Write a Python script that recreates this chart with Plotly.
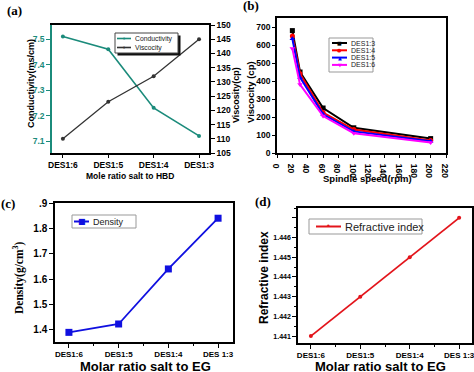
import plotly.graph_objects as go

W, H = 474, 372

# ---------------- data ----------------
# (a)
cats_a = ["DES1:6", "DES1:5", "DES1:4", "DES1:3"]
conductivity = [7.51, 7.46, 7.23, 7.12]
viscosity_a = [110, 123, 132, 145]
# (b)
speed = [20, 30, 60, 100, 200]
des13 = [680, 450, 250, 140, 80]
des14 = [650, 440, 225, 130, 70]
des15 = [635, 420, 215, 120, 65]
des16 = [580, 380, 205, 110, 58]
# (c)
cats_c = ["DES1:6", "DES1:5", "DES1:4", "DES 1:3"]
density = [1.39, 1.423, 1.64, 1.84]
# (d)
cats_d = ["DES1:6", "DES1:5", "DES1:4", "DES 1:3"]
refractive = [1.441, 1.443, 1.445, 1.447]

TEAL = "#1b8b7b"
DARK = "#333333"
BLUE = "#1010e0"
RED = "#e3141b"
MAG = "#ff00ff"
FONT = "Arial"


def xd(a, b):
    return [a / W, b / W]


def yd(top, bottom):
    return [1 - bottom / H, 1 - top / H]


def px(x):
    return x / W


def py(y):
    return 1 - y / H


bold = dict(family=FONT, weight="bold", color="black")

fig = go.Figure()

# ---------- (a) ----------
xa = list(range(len(cats_a)))
fig.add_trace(go.Scatter(x=xa, y=conductivity, name="Conductivity", mode="lines+markers",
                         line=dict(color=TEAL, width=1.6), marker=dict(size=4, color=TEAL),
                         xaxis="x", yaxis="y"))
fig.add_trace(go.Scatter(x=xa, y=viscosity_a, name="Viscocity", mode="lines+markers",
                         line=dict(color=DARK, width=1.3), marker=dict(size=4, color=DARK),
                         xaxis="x", yaxis="y2"))

# ---------- (b) ----------
series_b = [(des13, "DES1:3", "black", "square", "■"),
            (des14, "DES1:4", "red", "circle", "●"),
            (des15, "DES1:5", "blue", "triangle-up", "▲"),
            (des16, "DES1:6", MAG, "triangle-down", "▼")]
for ys, nm, col, sym, _ in series_b:
    fig.add_trace(go.Scatter(x=speed, y=ys, name=nm, mode="lines+markers",
                             line=dict(color=col, width=2), marker=dict(size=5, color=col, symbol=sym),
                             xaxis="x2", yaxis="y3"))

# ---------- (c) ----------
xc = list(range(len(cats_c)))
fig.add_trace(go.Scatter(x=xc, y=density, name="Density", mode="lines+markers",
                         line=dict(color=BLUE, width=1.8), marker=dict(size=7, color=BLUE, symbol="square"),
                         xaxis="x3", yaxis="y4"))

# ---------- (d) ----------
xdd = list(range(len(cats_d)))
fig.add_trace(go.Scatter(x=xdd, y=refractive, name="Refractive index", mode="lines+markers",
                         line=dict(color=RED, width=1.8), marker=dict(size=4, color=RED),
                         xaxis="x4", yaxis="y5"))

axis_common = dict(showgrid=False, zeroline=False, showline=True, linecolor="black", linewidth=1.5,
                   ticks="outside", tickcolor="black", tickwidth=1.2, ticklabeloverflow="allow")

fig.update_layout(
    width=W, height=H, margin=dict(l=0, r=0, t=0, b=0, autoexpand=False),
    paper_bgcolor="white", plot_bgcolor="white", showlegend=False,
    # (a)
    xaxis=dict(domain=xd(52, 209), anchor="y", range=[-0.24, 3.22], tickvals=xa, ticktext=cats_a,
               mirror=True, ticklen=3, tickfont=dict(size=8.5, **bold), **axis_common),
    yaxis=dict(domain=yd(25, 153), anchor="x", range=[7.053, 7.555], dtick=0.1, ticklen=4,
               tickfont=dict(size=8.5, family=FONT, weight="bold", color=TEAL),
               **{**axis_common, "linecolor": TEAL, "tickcolor": TEAL}),
    yaxis2=dict(domain=yd(25, 153), anchor="x", overlaying="y", side="right", range=[105, 150], dtick=5,
                ticklen=4, tickfont=dict(size=8.5, **bold), **axis_common),
    # (b)
    xaxis2=dict(domain=xd(277, 446), anchor="y3", range=[0, 220], dtick=20, mirror=True, ticklen=3,
                tickfont=dict(size=8.5, **bold), **axis_common),
    yaxis3=dict(domain=yd(18, 153), anchor="x2", range=[0, 750], tickvals=[0, 100, 200, 300, 400, 500, 600, 700],
                mirror=True, ticklen=3, tickfont=dict(size=8.5, **bold), **axis_common),
    # (c)
    xaxis3=dict(domain=xd(55, 233), anchor="y4", range=[-0.28, 3.3], tickvals=xc, ticktext=cats_c,
                mirror=True, ticklen=4, tickfont=dict(size=8, **bold),
                minor=dict(dtick=0.5, tick0=0, ticks="outside", ticklen=2, tickcolor="black"), **axis_common),
    yaxis4=dict(domain=yd(203, 342), anchor="x3", range=[1.352, 1.9],
                tickvals=[1.4, 1.5, 1.6, 1.7, 1.8, 1.9], ticktext=["1.4", "1.5", "1.6", "1.7", "1.8", ".9"],
                mirror=True, ticklen=4, tickfont=dict(size=10, **bold), **axis_common),
    # (d)
    xaxis4=dict(domain=xd(298, 472), anchor="y5", range=[-0.26, 3.26], tickvals=xdd, ticktext=cats_d,
                mirror=True, ticklen=4, tickfont=dict(size=8, **bold),
                minor=dict(dtick=0.5, tick0=0, ticks="outside", ticklen=2, tickcolor="black"), **axis_common),
    yaxis5=dict(domain=yd(208, 343), anchor="x4", range=[1.44065, 1.4475],
                tickvals=[1.441, 1.442, 1.443, 1.444, 1.445, 1.446, 1.447],
                ticktext=["1.441", "1.442", "1.443", "1.444", "1.445", "1.446", ""],
                mirror=True, ticklen=4, tickfont=dict(size=7, **bold),
                minor=dict(dtick=0.0005, tick0=1.441, ticks="outside", ticklen=2, tickcolor="black"), **axis_common),
)

shapes = []
ann = []


def A(text, x, y, size, angle=0, family=FONT, color="black", weight="bold", xanchor="center", yanchor="middle"):
    ann.append(dict(text=text, x=px(x), y=py(y), xref="paper", yref="paper", showarrow=False,
                    textangle=angle, xanchor=xanchor, yanchor=yanchor,
                    font=dict(size=size, family=family, color=color, weight=weight)))


def box(x0, y0, x1, y1, border="#777", shadow=False):
    if shadow:
        shapes.append(dict(type="rect", xref="paper", yref="paper", x0=px(x0 + 2.5), x1=px(x1 + 2.5),
                           y0=py(y1 + 2.5), y1=py(y0 + 2.5), fillcolor="#111", line=dict(width=0)))
    shapes.append(dict(type="rect", xref="paper", yref="paper", x0=px(x0), x1=px(x1),
                       y0=py(y1), y1=py(y0), fillcolor="white", line=dict(color=border, width=1)))


def entry(x0, x1, y, color, text, size, sym="•", symsize=8, lw=1.6, tcolor="#222"):
    shapes.append(dict(type="line", xref="paper", yref="paper", x0=px(x0), x1=px(x1), y0=py(y), y1=py(y),
                       line=dict(color=color, width=lw)))
    ann.append(dict(text=sym, x=px((x0 + x1) / 2), y=py(y), xref="paper", yref="paper", showarrow=False,
                    xanchor="center", yanchor="middle", font=dict(size=symsize, color=color, family="DejaVu Sans")))
    ann.append(dict(text=text, x=px(x1 + 1.5), y=py(y), xref="paper", yref="paper", showarrow=False,
                    xanchor="left", yanchor="middle", font=dict(size=size, color=tcolor, family=FONT)))


# legend (a)
box(115, 33, 178, 53, border="#444", shadow=True)
entry(117, 131, 38.5, TEAL, fig.data[0].name, 6.8, symsize=7)
entry(117, 131, 47.5, DARK, fig.data[1].name, 6.8, symsize=7)
# legend (b)
box(329, 38, 373, 72, border="#999")
for i, (_, nm, col, _, ch) in enumerate(series_b):
    entry(332, 347, 43 + i * 7.3, col, nm, 7, sym=ch, symsize=5, lw=2)
# legend (c)
box(72, 215, 136, 228, border="#999")
entry(74, 89, 221.5, BLUE, fig.data[6].name, 9, sym="■", symsize=8, lw=2)
# legend (d)
box(309, 219, 422, 234, border="#999")
entry(316, 341, 226.5, RED, fig.data[7].name, 11, symsize=8, lw=2)

# panel labels
A("(a)", 14, 11, 13, family="Times New Roman")
A("(b)", 251, 6, 13, family="Times New Roman")
A("(c)", 8, 204, 13, family="Times New Roman")
A("(d)", 263, 201, 13, family="Times New Roman")
# axis titles (a)
A("Conductivity(ms/cm)", 31, 84, 9, angle=-90)
A("Viscosity(cp)", 236, 95, 9, angle=-90)
A("Mole ratio salt to HBD", 130, 176, 8.5)
# (b)
A("Viscocity (cp)", 250, 92, 9.5, angle=-90)
A("Spindle speed(rpm)", 367, 178, 9.5)
# (c)
A("Density(g/cm<sup>3</sup>)", 18, 278, 11.5, angle=-90, family="Times New Roman")
A("Molar ratio salt to EG", 145, 366, 13)
# (d)
A("Refractive index", 264, 278, 12, angle=-90)
A("Molar ratio salt to EG", 380, 366, 13)

fig.update_layout(annotations=ann, shapes=shapes)

fig.write_html("out.html", config={"displayModeBar": False},
               post_script="document.body.style.margin='0px';document.body.style.overflow='hidden';")
